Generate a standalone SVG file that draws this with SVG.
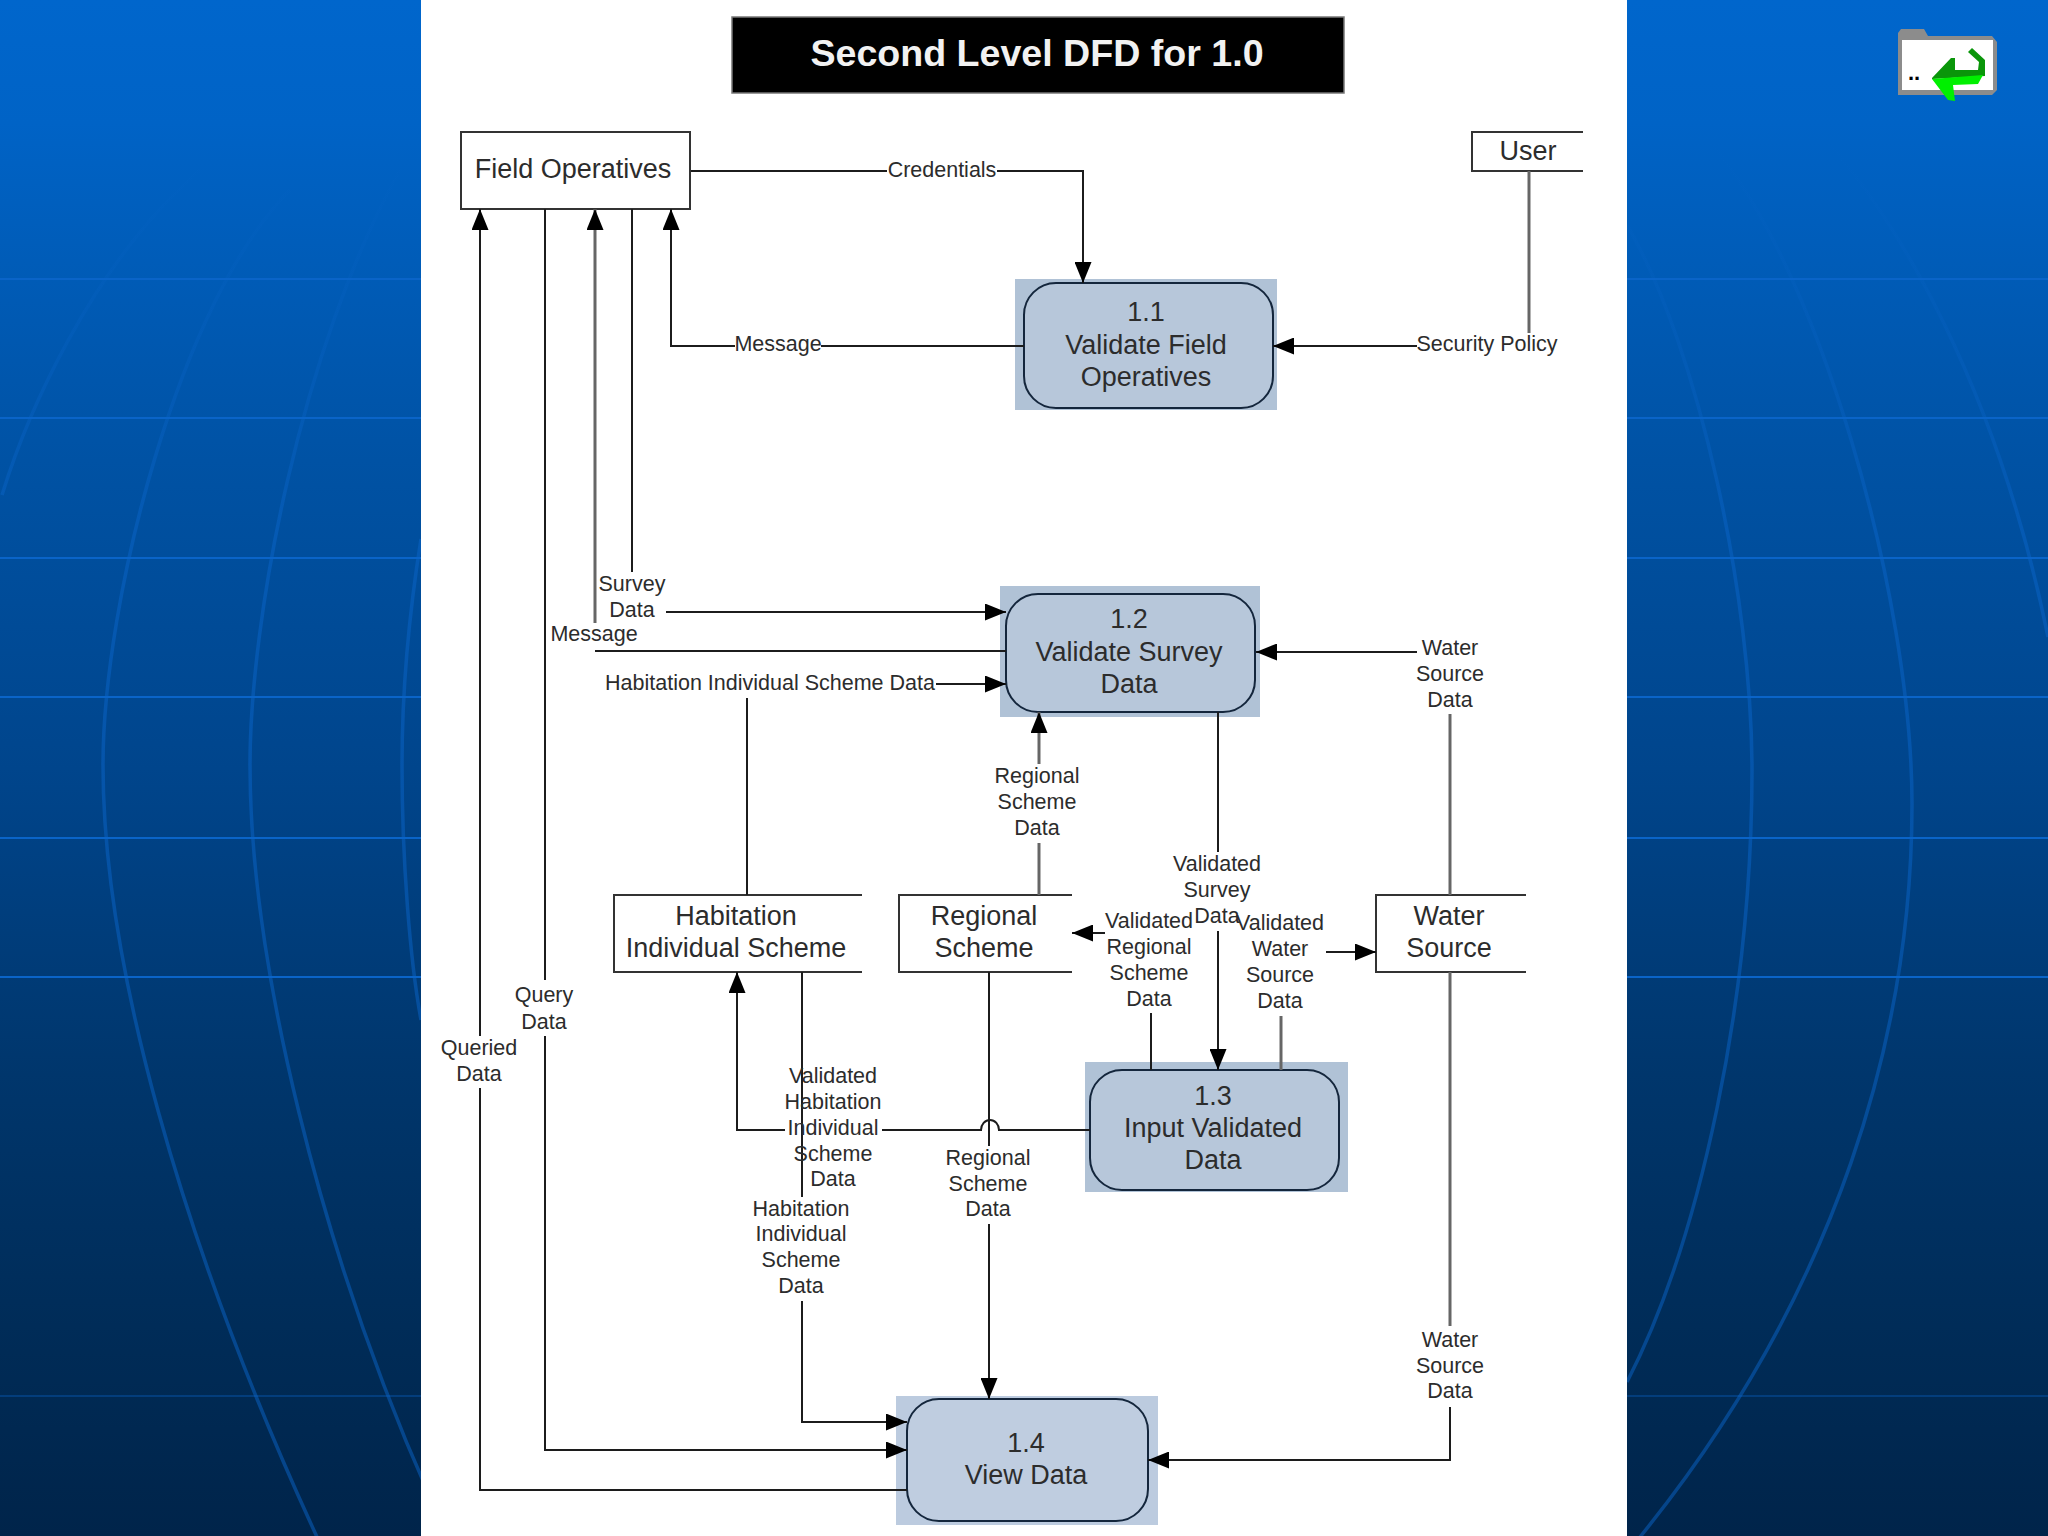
<svg xmlns="http://www.w3.org/2000/svg" width="2048" height="1536" viewBox="0 0 2048 1536">
<defs>
<linearGradient id="bg" x1="0" y1="0" x2="0" y2="1">
<stop offset="0" stop-color="#0066cc"/><stop offset="0.08" stop-color="#0063c6"/><stop offset="0.3" stop-color="#0052a4"/><stop offset="0.5" stop-color="#00458c"/><stop offset="0.7" stop-color="#00366c"/><stop offset="0.88" stop-color="#002b56"/><stop offset="1" stop-color="#00244a"/>
</linearGradient>
<linearGradient id="arcg" gradientUnits="userSpaceOnUse" x1="0" y1="140" x2="0" y2="1536">
<stop offset="0" stop-color="#0a64c8" stop-opacity="0"/><stop offset="0.28" stop-color="#0a64c8" stop-opacity=".5"/><stop offset="1" stop-color="#0a64c8" stop-opacity=".5"/>
</linearGradient>
<marker id="arr" markerUnits="userSpaceOnUse" markerWidth="21" markerHeight="17" refX="21" refY="8.5" orient="auto"><path d="M0 0L21 8.5L0 17z" fill="#000"/></marker>
</defs>
<style>
.hl{stroke:#0a64c8;stroke-width:2;fill:none}
.arc{stroke:url(#arcg);stroke-width:3.5;fill:none}
.c{fill:none;stroke:#1c1c1c;stroke-width:2}
.g{fill:none;stroke:#666;stroke-width:3}
.a{marker-end:url(#arr)}
.ext{fill:#fff;stroke:#333;stroke-width:2}
.edge{fill:none;stroke:#333;stroke-width:2}
.halo{fill:#b0c2d6}
.proc{fill:#b7c7da;stroke:#14263c;stroke-width:2}
.n{font-family:"Liberation Sans",Arial,sans-serif;font-size:27px;fill:#2c2c2c;text-anchor:middle}
.l{font-family:"Liberation Sans",Arial,sans-serif;font-size:21.5px;fill:#2c2c2c;text-anchor:middle}
</style>
<rect width="2048" height="1536" fill="url(#bg)"/>
<g id="background-lines">
<path class="hl" d="M0 279H2048M0 418H2048M0 558H2048M0 697H2048M0 838H2048M0 977H2048"/>
<path class="hl" opacity=".35" d="M0 1396H2048"/>
<path class="arc" d="M290 190C180 300 103 600 103 765C103 960 180 1240 317 1537"/>
<path class="arc" d="M400 170C300 350 250 620 250 765C250 960 320 1250 430 1497"/>
<path class="arc" d="M421 539C408 620 402 700 402 765C402 860 410 960 421 1020"/>
<path class="arc" d="M2 495C25 420 90 265 200 170"/>
<path class="arc" d="M1627 225C1700 350 1752 600 1752 770C1752 1000 1700 1240 1627 1382"/>
<path class="arc" d="M1700 130C1820 260 1912 600 1912 804C1912 1030 1840 1290 1640 1537"/>
<path class="arc" d="M1800 113C1900 210 2000 400 2048 637"/>
</g>
<rect id="panel" x="421" y="0" width="1206" height="1536" fill="#fff"/>
<g id="title">
<rect x="732" y="17" width="612" height="76" fill="#000" stroke="#777" stroke-width="1.5"/>
<text x="1037" y="66" font-family="'Liberation Sans',Arial,sans-serif" font-size="37.6" font-weight="700" fill="#f2f2f2" text-anchor="middle">Second Level DFD for 1.0</text>
</g>
<g id="icon">
<path d="M1898 95V33L1901 29H1924L1928 36H1992L1997 42V90L1992 95Z" fill="#8c8c8c"/>
<rect x="1902" y="40" width="91" height="50" fill="#fff"/>
<path d="M1932 78L1951 58H1955V70H1978L1979 62L1968 52L1972 48L1985 60V76L1932 79Z" fill="#0a960a"/>
<path d="M1932 79L1983 75L1978 84L1953 85L1955 101L1948 100Z" fill="#00f000"/>
<text x="1908" y="80" font-family="'Liberation Sans',Arial,sans-serif" font-size="22" font-weight="700" fill="#000">..</text>
</g>
<g id="field-operatives"><rect class="ext" x="461" y="132" width="229" height="77"/><text class="n" x="573" y="178">Field Operatives</text></g>
<g id="user"><path class="edge" d="M1583 132H1472V171H1583"/><text class="n" x="1528" y="160">User</text></g>
<g id="habitation-individual-scheme"><path class="edge" d="M862 895H614V972H862"/><text class="n" x="736" y="925">Habitation</text><text class="n" x="736" y="957">Individual Scheme</text></g>
<g id="regional-scheme"><path class="edge" d="M1072 895H899V972H1072"/><text class="n" x="984" y="925">Regional</text><text class="n" x="984" y="957">Scheme</text></g>
<g id="water-source"><path class="edge" d="M1526 895H1376V972H1526"/><text class="n" x="1449" y="925">Water</text><text class="n" x="1449" y="957">Source</text></g>
<g id="p1-1"><rect class="halo" x="1015" y="279" width="262" height="131"/><rect class="proc" x="1024" y="283" width="249" height="125" rx="32"/><text class="n" x="1146" y="321">1.1</text><text class="n" x="1146" y="354">Validate Field</text><text class="n" x="1146" y="386">Operatives</text></g>
<g id="p1-2"><rect class="halo" x="1000" y="586" width="260" height="131"/><rect class="proc" x="1006" y="594" width="249" height="118" rx="32"/><text class="n" x="1129" y="628">1.2</text><text class="n" x="1129" y="661">Validate Survey</text><text class="n" x="1129" y="693">Data</text></g>
<g id="p1-3"><rect class="halo" x="1085" y="1062" width="263" height="130"/><rect class="proc" x="1090" y="1070" width="249" height="120" rx="32"/><text class="n" x="1213" y="1105">1.3</text><text class="n" x="1213" y="1137">Input Validated</text><text class="n" x="1213" y="1169">Data</text></g>
<g id="p1-4"><rect class="halo" x="896" y="1396" width="262" height="129" style="fill:#bccbdf"/><rect class="proc" x="907" y="1399" width="241" height="122" rx="32" style="fill:#bfcde0"/><text class="n" x="1026" y="1452">1.4</text><text class="n" x="1026" y="1484">View Data</text></g>
<g id="connectors">
<path class="c" d="M691 171H887"/><path class="c a" d="M997 171H1083V283"/>
<path class="c" d="M1024 346H821"/><path class="c a" d="M735 346H671V209"/>
<path class="g" d="M1529 171V333"/><path class="c a" d="M1417 346H1273"/>
<path class="c" d="M632 209V572"/><path class="c a" d="M666 612H1006"/>
<path class="c" d="M1006 651H595"/><path class="g a" d="M595 623V209"/>
<path class="c" d="M747 895V698"/><path class="c a" d="M936 684H1006"/>
<path class="g" d="M1039 895V843"/><path class="g a" d="M1039 764V712"/>
<path class="c" d="M1218 712V852"/><path class="c a" d="M1218 931V1070"/>
<path class="c" d="M1151 1070V1013"/><path class="c a" d="M1105 933H1072"/>
<path class="g" d="M1281 1070V1016"/><path class="c a" d="M1326 952H1376"/>
<path class="g" d="M1450 895V714"/><path class="c a" d="M1417 652H1256"/>
<path class="g" d="M1450 972V1326"/><path class="c a" d="M1450 1407V1460H1148"/>
<path class="c" d="M545 209V980"/><path class="c a" d="M545 1036V1450H907"/>
<path class="c" d="M907 1490H480V1088"/><path class="c a" d="M480 1036V209"/>
<path class="c" d="M802 972V1197"/><path class="c a" d="M802 1301V1422H907"/>
<path class="c" d="M1090 1130H999A9 10 0 0 0 981 1130H882"/><path class="c a" d="M785 1130H737V972"/>
<path class="c" d="M989 972V1146"/><path class="c a" d="M989 1224V1399"/>
</g>
<g id="labels">
<text class="l" x="942" y="177">Credentials</text>
<text class="l" x="778" y="351">Message</text>
<text class="l" x="1487" y="351">Security Policy</text>
<text class="l" x="632" y="591">Survey</text><text class="l" x="632" y="617">Data</text>
<text class="l" x="594" y="641">Message</text>
<text class="l" x="770" y="690">Habitation Individual Scheme Data</text>
<text class="l" x="1037" y="783">Regional</text><text class="l" x="1037" y="809">Scheme</text><text class="l" x="1037" y="835">Data</text>
<text class="l" x="1450" y="655">Water</text><text class="l" x="1450" y="681">Source</text><text class="l" x="1450" y="707">Data</text>
<text class="l" x="1217" y="871">Validated</text><text class="l" x="1217" y="897">Survey</text><text class="l" x="1217" y="923">Data</text>
<text class="l" x="1149" y="928">Validated</text><text class="l" x="1149" y="954">Regional</text><text class="l" x="1149" y="980">Scheme</text><text class="l" x="1149" y="1006">Data</text>
<text class="l" x="1280" y="930">Validated</text><text class="l" x="1280" y="956">Water</text><text class="l" x="1280" y="982">Source</text><text class="l" x="1280" y="1008">Data</text>
<text class="l" x="544" y="1002">Query</text><text class="l" x="544" y="1029">Data</text>
<text class="l" x="479" y="1055">Queried</text><text class="l" x="479" y="1081">Data</text>
<text class="l" x="833" y="1083">Validated</text><text class="l" x="833" y="1109">Habitation</text><text class="l" x="833" y="1135">Individual</text><text class="l" x="833" y="1161">Scheme</text><text class="l" x="833" y="1186">Data</text>
<text class="l" x="801" y="1216">Habitation</text><text class="l" x="801" y="1241">Individual</text><text class="l" x="801" y="1267">Scheme</text><text class="l" x="801" y="1293">Data</text>
<text class="l" x="988" y="1165">Regional</text><text class="l" x="988" y="1191">Scheme</text><text class="l" x="988" y="1216">Data</text>
<text class="l" x="1450" y="1347">Water</text><text class="l" x="1450" y="1373">Source</text><text class="l" x="1450" y="1398">Data</text>
</g>
</svg>
